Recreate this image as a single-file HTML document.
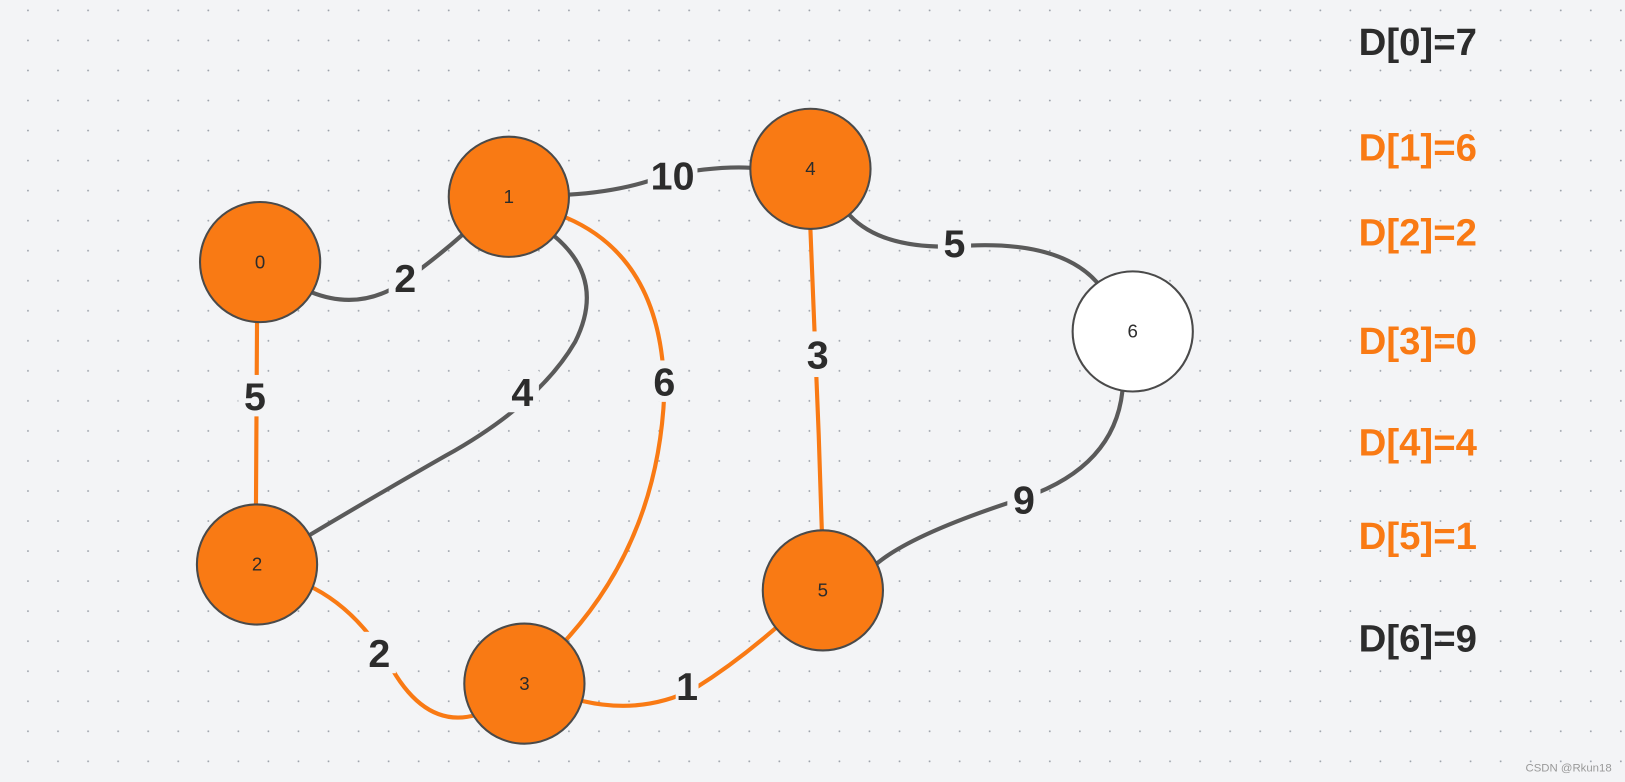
<!DOCTYPE html>
<html><head><style>
html,body{margin:0;padding:0;background:#f3f4f6;}
svg{display:block;}
text{font-family:"Liberation Sans",sans-serif;}
.b{font-weight:bold;}
</style></head><body>
<svg width="1625" height="782" viewBox="0 0 1568 755" preserveAspectRatio="none" xmlns="http://www.w3.org/2000/svg">
<defs>
<pattern id="d" x="0" y="0" width="29" height="29" patternUnits="userSpaceOnUse">
<circle cx="27" cy="10" r="0.9" fill="#9aa0a8"/>
</pattern>
</defs>
<rect width="1568" height="755" fill="#f3f4f6"/>
<rect width="1568" height="755" fill="url(#d)"/>
<g fill="none" stroke-width="4" stroke-linecap="round">
<path d="M300 282 Q345 300 385 275 Q420 250 447 226" stroke="#5a5a5a"/>
<path d="M548 188 Q600 185 640 170 Q690 160 725 162" stroke="#5a5a5a"/>
<path d="M535 228 Q585 270 555 330 Q520 390 430 440 Q360 480 298 517" stroke="#5a5a5a"/>
<path d="M820 208 Q850 240 920 238 Q1020 230 1058 272" stroke="#5a5a5a"/>
<path d="M1083 378 Q1075 450 990 480 Q880 515 845 545" stroke="#5a5a5a"/>
<path d="M546 210 Q640 250 641 380 Q635 520 546 618" stroke="#f97a14"/>
<path d="M248 312 L247 487" stroke="#f97a14"/>
<path d="M303 568 Q345 590 375 640 Q410 705 460 690" stroke="#f97a14"/>
<path d="M563 677 Q620 690 670 665 Q710 640 750 605" stroke="#f97a14"/>
<path d="M782 222 L790 420 L793 512" stroke="#f97a14"/>
</g>
<g fill="#f3f4f6">
<rect x="375" y="250" width="32" height="38"/><rect x="625" y="148" width="48" height="38"/>
<rect x="488" y="358" width="32" height="40"/><rect x="625" y="348" width="32" height="40"/>
<rect x="230" y="362" width="34" height="40"/><rect x="773" y="320" width="32" height="44"/>
<rect x="905" y="215" width="32" height="38"/><rect x="972" y="462" width="32" height="40"/>
<rect x="350" y="610" width="32" height="40"/><rect x="652" y="642" width="22" height="40"/>
</g>
<g class="b" fill="#2c2c2c" font-size="38" text-anchor="middle">
<text x="391" y="282">2</text><text x="649" y="183">10</text>
<text x="504" y="392">4</text><text x="641" y="382">6</text>
<text x="246" y="396">5</text><text x="789" y="356">3</text>
<text x="921" y="248">5</text><text x="988" y="496">9</text>
<text x="366" y="644">2</text><text x="663" y="676">1</text>
</g>
<g stroke="#4a4a4a" stroke-width="2">
<circle cx="251" cy="253" r="58" fill="#f97a14"/>
<circle cx="491" cy="190" r="58" fill="#f97a14"/>
<circle cx="782" cy="163" r="58" fill="#f97a14"/>
<circle cx="1093" cy="320" r="58" fill="#ffffff"/>
<circle cx="248" cy="545" r="58" fill="#f97a14"/>
<circle cx="506" cy="660" r="58" fill="#f97a14"/>
<circle cx="794" cy="570" r="58" fill="#f97a14"/>
</g>
<g fill="#2c2c2c" font-size="18" text-anchor="middle">
<text x="251" y="259">0</text><text x="491" y="196">1</text><text x="782" y="169">4</text>
<text x="1093" y="326">6</text><text x="248" y="551">2</text><text x="506" y="666">3</text><text x="794" y="576">5</text>
</g>
<g class="b" font-size="37">
<text x="1311" y="53" fill="#2c2c2c">D[0]=7</text>
<text x="1311" y="155" fill="#f97a14">D[1]=6</text>
<text x="1311" y="237" fill="#f97a14">D[2]=2</text>
<text x="1311" y="342" fill="#f97a14">D[3]=0</text>
<text x="1311" y="440" fill="#f97a14">D[4]=4</text>
<text x="1311" y="530" fill="#f97a14">D[5]=1</text>
<text x="1311" y="629" fill="#2c2c2c">D[6]=9</text>
</g>
<text x="1472" y="745" font-size="11" fill="#999">CSDN @Rkun18</text>
</svg>
</body></html>
